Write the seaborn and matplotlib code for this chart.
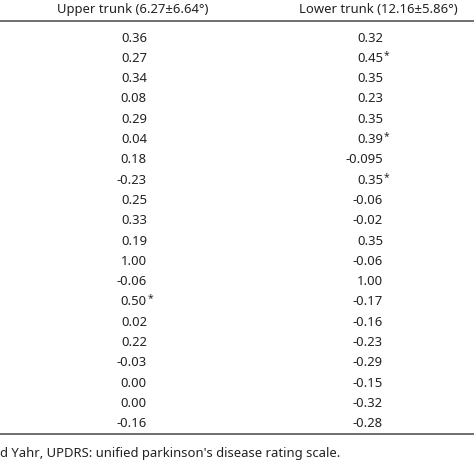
import matplotlib
matplotlib.use("Agg")
import matplotlib.pyplot as plt
import seaborn as sns

sns.set_theme(style="white")
plt.rcParams['font.family'] = ['Noto Sans', 'DejaVu Sans']

headers = ["Upper trunk (6.27±6.64°)", "Lower trunk (12.16±5.86°)"]
upper = ["0.36", "0.27", "0.34", "0.08", "0.29", "0.04", "0.18", "-0.23", "0.25", "0.33",
         "0.19", "1.00", "-0.06", "0.50*", "0.02", "0.22", "-0.03", "0.00", "0.00", "-0.16"]
lower = ["0.32", "0.45*", "0.35", "0.23", "0.35", "0.39*", "-0.095", "0.35*", "-0.06", "-0.02",
         "0.35", "-0.06", "1.00", "-0.17", "-0.16", "-0.23", "-0.29", "-0.15", "-0.32", "-0.28"]
footnote = "d Yahr, UPDRS: unified parkinson's disease rating scale."

fig = plt.figure(figsize=(4.74, 4.74), dpi=100)
ax = fig.add_axes([0, 0, 1, 1])
ax.set_xlim(0, 474)
ax.set_ylim(474, 0)
ax.axis("off")

fs = 9.4
color = "#222222"
for x, h in zip([133, 378], headers):
    ax.text(x, 9, h, ha="center", va="center", fontsize=fs, color=color)
ax.axhline(21, color="#555555", lw=1.2)

right_x = [147, 383]
y0, dy = 38, 20.3
for i, (u, l) in enumerate(zip(upper, lower)):
    y = y0 + i * dy
    for rx, v in zip(right_x, (u, l)):
        num = v.rstrip("*")
        ax.text(rx, y, num, ha="right", va="center", fontsize=fs, color=color)
        if v.endswith("*"):
            ax.text(rx + 0.5, y - 3, "*", ha="left", va="center", fontsize=fs - 2, color=color)

ax.axhline(434, color="#555555", lw=1.2)
ax.text(0, 453, footnote, ha="left", va="center", fontsize=fs, color=color)

fig.savefig("out.png", dpi=100)
